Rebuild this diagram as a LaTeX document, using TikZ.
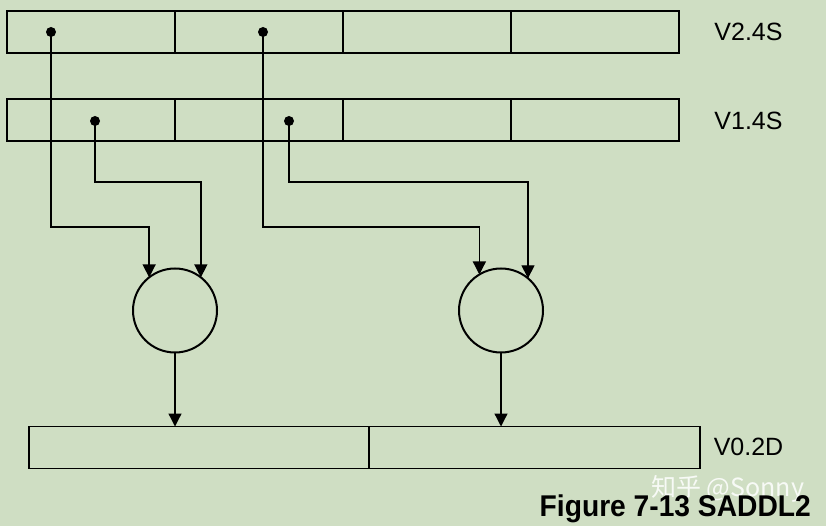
\documentclass[tikz,border=0pt]{standalone}
\usepackage{fontspec}
\setmainfont{Liberation Sans}
\newfontfamily\cjk{Noto Sans CJK SC}
\usetikzlibrary{arrows.meta}
\definecolor{bg}{RGB}{207,222,195}
\begin{document}
\begin{tikzpicture}[x=1pt,y=-1pt,
  cell/.style={draw, line width=1.9pt, minimum height=42pt, inner sep=0pt, outer sep=0pt},
  dot/.style={circle, fill=black, minimum size=10pt, inner sep=0pt},
  op/.style={circle, draw, line width=2pt, minimum size=84pt, inner sep=0pt, outer sep=0pt},
  arr/.style={line width=1.3pt, -{Triangle[length=13pt,width=13pt]}},
  lbl/.style={font=\fontsize{25}{25}\selectfont},
]
\fill[bg] (0,0) rectangle (826,526);
\useasboundingbox (0,0) rectangle (826,526);
% V2 register
\node[cell, minimum width=168pt] (a0) at (91,32) {};
\node[cell, minimum width=168pt] (a1) at (259,32) {};
\node[cell, minimum width=168pt] (a2) at (427,32) {};
\node[cell, minimum width=168pt] (a3) at (595,32) {};
% V1 register
\node[cell, minimum width=168pt] (b0) at (91,120) {};
\node[cell, minimum width=168pt] (b1) at (259,120) {};
\node[cell, minimum width=168pt] (b2) at (427,120) {};
\node[cell, minimum width=168pt] (b3) at (595,120) {};
% V0 register
\node[cell, minimum width=340pt] (r0) at (199,447.5) {};
\node[cell, minimum width=331pt] (r1) at (534.5,447.5) {};
% labels
\node[lbl] (l2) at (748.5,32) {V2.4S};
\node[lbl] (l1) at (748.5,121) {V1.4S};
\node[lbl] (l0) at (748.5,447) {V0.2D};
% dots
\node[dot] (d21) at (51,32) {};
\node[dot] (d22) at (263,32) {};
\node[dot] (d11) at (95,121) {};
\node[dot] (d12) at (289,121) {};
% operators
\node[op] (c1) at (175,310.5) {};
\node[op] (c2) at (501,310.5) {};
\coordinate (ylow) at (0,227);
\coordinate (yhigh) at (0,182);
% connectors
\draw[arr] (d21.center) |- (c1.128 |- ylow) -- (c1.128);
\draw[arr] (d11.center) |- (c1.52 |- yhigh) -- (c1.52);
\draw[arr] (d22.center) |- (c2.121.6 |- ylow) -- (c2.121.6);
\draw[arr] (d12.center) |- (c2.50 |- yhigh) -- (c2.50);
\draw[arr] (c1.south) -- (c1.south |- r0.north);
\draw[arr] (c2.south) -- (c2.south |- r1.north);
% watermark
\node[anchor=base west, inner sep=0pt, text=white, text opacity=0.85, font=\cjk\fontsize{25}{25}\selectfont] (wm) at (651,496) {知乎 @Sonny};
% caption
\node[anchor=base east, inner sep=0pt, xscale=0.94, font=\bfseries\fontsize{30}{30}\selectfont] (cap) at (811,516) {Figure 7-13 SADDL2};
\end{tikzpicture}
\end{document}
